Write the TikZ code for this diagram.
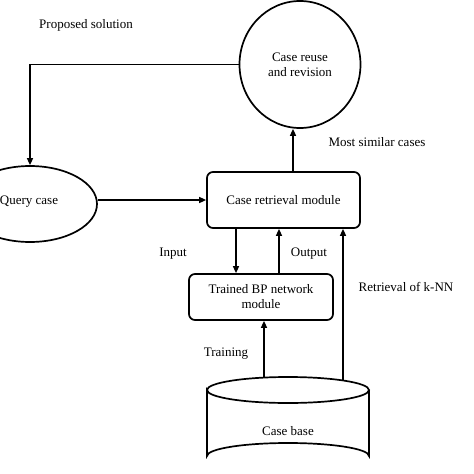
\documentclass[tikz,border=0pt]{standalone}
\usepackage{fontspec}
\setmainfont{Liberation Serif}
\usetikzlibrary{arrows.meta,shapes.geometric}
\begin{document}
\begin{tikzpicture}[x=1pt,y=-1pt,
  txt/.style={font=\fontsize{13}{15}\selectfont, inner sep=0pt, align=center},
  modbox/.style={draw, rounded corners=6pt, line width=1.7pt, inner sep=0pt, align=center, font=\fontsize{13}{15}\selectfont},
  shp/.style={draw, ellipse, line width=1.7pt, inner sep=0pt, align=center, font=\fontsize{13}{15}\selectfont},
  arr/.style={-{Triangle[length=7pt,width=6pt]}, line width=1.4pt}]
\useasboundingbox (0,0) rectangle (474,474);
% nodes
\node[shp, minimum width=121pt, minimum height=127pt] (reuse) at (300,64.5) {Case reuse\\and revision};
\node[shp, minimum width=134pt, minimum height=76pt] (query) at (30,204) {};
\node[txt] (qtext) at (29,202) {Query case};
\node[modbox, minimum width=153pt, minimum height=56pt] (retr) at (283.5,200) {Case retrieval module};
\node[modbox, minimum width=144pt, minimum height=46pt] (bp) at (261,297) {Trained BP network\\module};
% cylinder
\draw[line width=1.7pt] (207,390) arc[start angle=180, end angle=360, x radius=81, y radius=13]
  arc[start angle=0, end angle=180, x radius=81, y radius=13] -- (207,456)
  arc[start angle=180, end angle=360, x radius=81, y radius=13] -- (369,390);
\node[txt] (base) at (288,431) {Case base};
\coordinate (trainTop) at (264,377.6);
\coordinate (knnTop) at (343,380.5);
% labels
\node[txt] (lprop) at (86,25) {Proposed solution};
\node[txt] (lmost) at (377,142) {Most similar cases};
\node[txt] (linput) at (173,254) {Input};
\node[txt] (loutput) at (309,254) {Output};
\node[txt] (lknn) at (406,287) {Retrieval of k-NN};
\node[txt] (ltrain) at (226,354) {Training};
% x positions
\coordinate (xin) at (236,0);
\coordinate (xout) at (279,0);
\coordinate (xknn) at (343,0);
\coordinate (xmost) at (293,0);
\coordinate (xtrain) at (264,0);
% connectors
\draw[arr] (reuse.west) -| (query.north);
\draw[arr] (retr.west -| query.east) -- (retr.west);
\draw[arr] (retr.north -| xmost) -- (reuse.south -| xmost);
\draw[arr] (retr.south -| xin) -- (bp.north -| xin);
\draw[arr] (bp.north -| xout) -- (retr.south -| xout);
\draw[arr] (knnTop) -- (retr.south -| xknn);
\draw[arr] (trainTop) -- (bp.south -| xtrain);
\end{tikzpicture}
\end{document}
